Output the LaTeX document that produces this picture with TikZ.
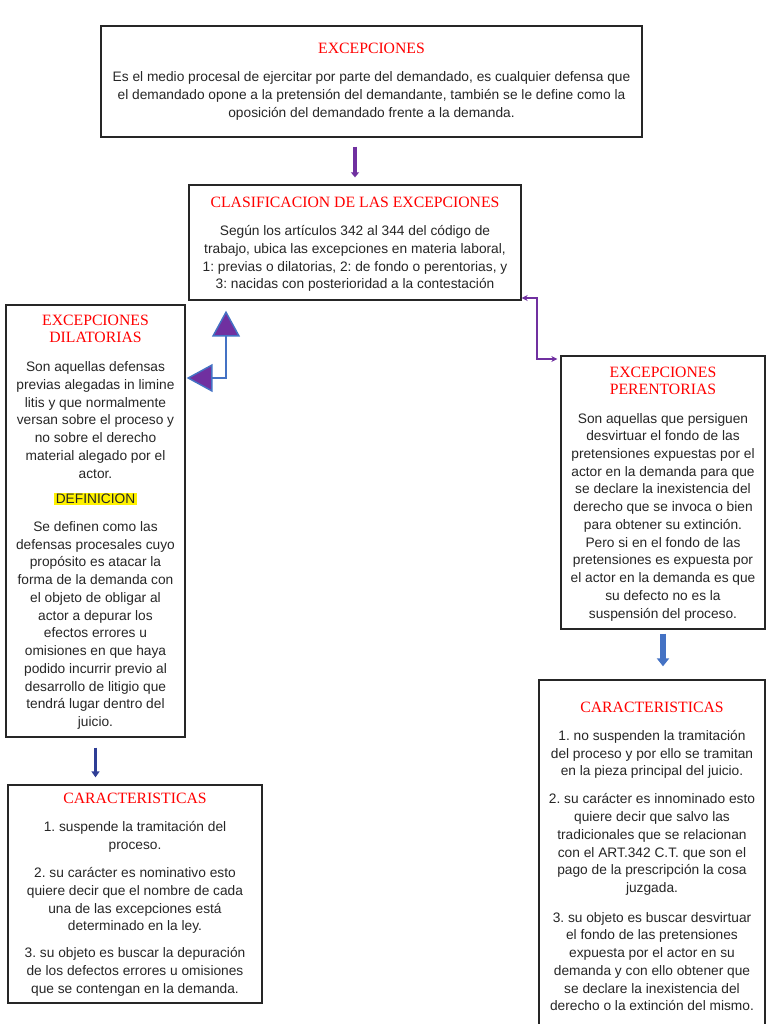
\documentclass[tikz,border=0pt]{standalone}
\usepackage{fontspec}
\setmainfont{Liberation Sans}
\newfontfamily\titlefont{Liberation Serif}
\usetikzlibrary{arrows.meta}
\newdimen\px \px=0.75pt
\definecolor{pur}{RGB}{112,48,160}
\definecolor{blu}{RGB}{68,114,196}
\definecolor{nav}{RGB}{47,62,150}
\frenchspacing
\begin{document}
\begin{tikzpicture}[x=0.75pt,y=-0.75pt,
	box/.style={draw=black!85, line width=1pt, inner sep=0},
	ttl/.style={text=red, font=\titlefont\fontsize{11.8}{12.75}\selectfont, align=center, inner sep=0},
	txt/.style={text=black!85, font=\fontsize{10.3}{13.3}\selectfont, align=center, inner sep=0}]
	\useasboundingbox (0,0) rectangle (768,1024);
	
	\node[box, minimum width=541\px, minimum height=111\px] (v1) at (371.5,81.5) {};
	\node[box, minimum width=332\px, minimum height=115\px] (v2) at (355,242.5) {};
	\node[box, minimum width=179\px, minimum height=432\px] (v3) at (95.5,521) {};
	\node[box, minimum width=204\px, minimum height=273\px] (v4) at (663,492.5) {};
	\node[box, minimum width=254\px, minimum height=218\px] (v5) at (135,894) {};
	\node[box, minimum width=226\px, minimum height=360\px] (v6) at (652,860) {};
	
	\node[ttl] (v7) at (371.5,48) {EXCEPCIONES};
	\node[txt] (v8) at (371.5,96) {Es el medio procesal de ejercitar por parte del demandado, es cualquier defensa que\\el demandado opone a la pretensión del demandante, también se le define como la\\oposición del demandado frente a la demanda.};
	
	\node[ttl] (v9) at (355,202) {CLASIFICACION DE LAS EXCEPCIONES};
	\node[txt] (v10) at (355,258.5) {Según los artículos 342 al 344 del código de\\trabajo, ubica las excepciones en materia laboral,\\1: previas o dilatorias, 2: de fondo o perentorias, y\\3: nacidas con posterioridad a la contestación};
	
	\node[ttl] (v11) at (95.5,328.5) {EXCEPCIONES\\DILATORIAS};
	\node[txt] (v12) at (95.5,420) {Son aquellas defensas\\previas alegadas in limine\\litis y que normalmente\\versan sobre el proceso y\\no sobre el derecho\\material alegado por el\\actor.};
	\node[txt, fill=yellow, inner sep=1pt] (v13) at (95.5,499) {DEFINICION};
	\node[txt] (v14) at (95.5,625.5) {Se definen como las\\defensas procesales cuyo\\propósito es atacar la\\forma de la demanda con\\el objeto de obligar al\\actor a depurar los\\efectos errores u\\omisiones en que haya\\podido incurrir previo al\\desarrollo de litigio que\\tendrá lugar dentro del\\juicio.};
	
	\node[ttl] (v15) at (663,381) {EXCEPCIONES\\PERENTORIAS};
	\node[txt] (v16) at (663,517) {Son aquellas que persiguen\\desvirtuar el fondo de las\\pretensiones expuestas por el\\actor en la demanda para que\\se declare la inexistencia del\\derecho que se invoca o bien\\para obtener su extinción.\\Pero si en el fondo de las\\pretensiones es expuesta por\\el actor en la demanda es que\\su defecto no es la\\suspensión del proceso.};
	
	\node[ttl] (v17) at (135,798) {CARACTERISTICAS};
	\node[txt] (v18) at (135,837) {1. suspende la tramitación del\\proceso.};
	\node[txt] (v19) at (135,900.5) {2. su carácter es nominativo esto\\quiere decir que el nombre de cada\\una de las excepciones está\\determinado en la ley.};
	\node[txt] (v20) at (135,972) {3. su objeto es buscar la depuración\\de los defectos errores u omisiones\\que se contengan en la demanda.};
	
	\node[ttl] (v21) at (652,707) {CARACTERISTICAS};
	\node[txt] (v22) at (652,754.5) {1. no suspenden la tramitación\\del proceso y por ello se tramitan\\en la pieza principal del juicio.};
	\node[txt] (v23) at (652,844.5) {2. su carácter es innominado esto\\quiere decir que salvo las\\tradicionales que se relacionan\\con el ART.342 C.T. que son el\\pago de la prescripción la cosa\\juzgada.};
	\node[txt] (v24) at (652,961.5) {3. su objeto es buscar desvirtuar\\el fondo de las pretensiones\\expuesta por el actor en su\\demanda y con ello obtener que\\se declare la inexistencia del\\derecho o la extinción del mismo.};
	
	\coordinate (v25) at (226,378);
	\coordinate (v26) at (537,298);
	\coordinate (v27) at (537,359);
	
	\draw [pur, line width=2.6pt, -{Triangle[length=3.75pt,width=6pt]}, shorten <=6.75pt, shorten >=5.25pt] (v2.north |- v1.south) -- (v2.north);
	\draw [blu, line width=1.1pt, {Triangle[length=19.5pt,width=21pt,fill=pur]}-{Triangle[length=19.5pt,width=21pt,fill=pur]}, shorten <=7.5pt, shorten >=0.75pt] (v2.south -| v25) -- (v25) -- (v25 -| v3.east);
	\draw [pur, line width=0.8pt, {Stealth[length=4.5pt,width=4.5pt]}-{Stealth[length=4.5pt,width=4.5pt]}, shorten >=2.25pt] (v2.east |- v26) -- (v26) -- (v27) -- (v4.west |- v27);
	\draw [blu, line width=3.8pt, -{Triangle[length=6pt,width=9pt]}, shorten <=3pt, shorten >=9.75pt] (v4.south) -- (v6.north -| v4.south);
	\draw [nav, line width=2.3pt, -{Triangle[length=4.5pt,width=6pt]}, shorten <=7.5pt, shorten >=5.25pt] (v3.south) -- (v3.south |- v5.north);
\end{tikzpicture}
\end{document}
